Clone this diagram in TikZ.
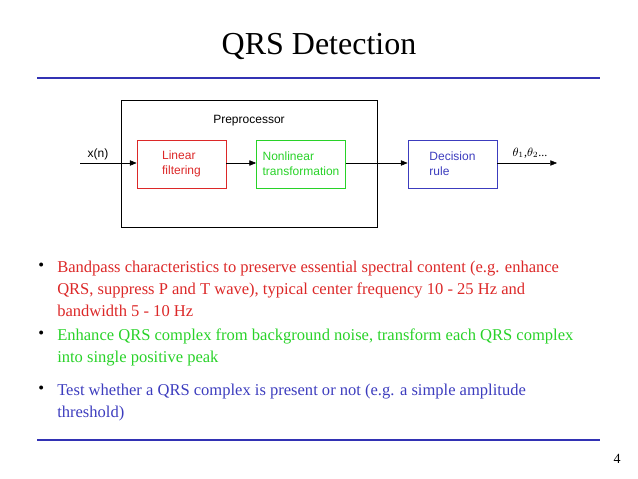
\documentclass[tikz,border=0pt]{standalone}
\usepackage{fontspec}
\setmainfont{Liberation Serif}
\setsansfont{Liberation Sans}
\usetikzlibrary{arrows.meta}
\definecolor{rred}{RGB}{220,40,40}
\definecolor{ggreen}{RGB}{40,210,40}
\definecolor{bblue}{RGB}{60,60,190}
\definecolor{lblue}{RGB}{50,50,180}
\begin{document}
\begin{tikzpicture}[x=0.75pt,y=-0.75pt,
  blk/.style={draw,semithick,minimum width=66.75pt,minimum height=36pt,font=\sffamily\fontsize{9}{11}\selectfont,align=left,inner sep=0pt},
  arr/.style={-{Triangle[length=5pt,width=4pt]},thin},
  bul/.style={anchor=north west,align=left,font=\fontsize{12.4}{16.5}\selectfont,inner sep=0pt}]
\useasboundingbox (0,0) rectangle (638,478);
\node (title) at (319,47) {\fontsize{24}{28}\selectfont QRS Detection};
\draw[lblue,line width=1.3pt] (37,78) -- (600,78);
\draw[lblue,line width=1.3pt] (37,440) -- (600,440);
\node (pg) at (617,459) {\fontsize{10.5}{12}\selectfont 4};
% diagram
\node[draw,thin,minimum width=192pt,minimum height=95.25pt,inner sep=0pt] (pre) at (249,163.5) {};
\node[font=\sffamily\fontsize{9}{11}\selectfont] (prel) at (249,121) {Preprocessor};
\node[blk,draw=rred,text=rred] (lin) at (181.5,164) {Linear\\filtering};
\node[blk,draw=ggreen,text=ggreen] (non) at (301,164) {Nonlinear\\transformation};
\node[blk,draw=bblue,text=bblue] (dec) at (452.5,164) {Decision\\rule};
\coordinate (in) at (80,163);
\coordinate (out) at (557,163);
\draw[arr] (in) -- (lin.west|-in);
\draw[arr] (lin.east|-in) -- (non.west|-in);
\draw[arr] (non.east|-in) -- (dec.west|-in);
\draw[arr] (dec.east|-in) -- (out);
\node[font=\sffamily\fontsize{9}{11}\selectfont] (xn) at (98,154) {x(n)};
\node[font=\fontsize{9}{11}\selectfont] (th) at (530,153) {$\theta_1$,$\theta_2$...};
% bullets
\node[bul] (b1) at (38,263) {\textbullet};
\node[bul,text=rred] (t1) at (57,261) {Bandpass characteristics to preserve essential spectral content (e.g. enhance\\QRS, suppress P and T wave), typical center frequency 10 - 25 Hz and\\bandwidth 5 - 10 Hz};
\node[bul] (b2) at (38,331) {\textbullet};
\node[bul,text=ggreen] (t2) at (57,329) {Enhance QRS complex from background noise, transform each QRS complex\\into single positive peak};
\node[bul] (b3) at (38,386) {\textbullet};
\node[bul,text=bblue] (t3) at (57,384) {Test whether a QRS complex is present or not (e.g. a simple amplitude\\threshold)};
\end{tikzpicture}
\end{document}
